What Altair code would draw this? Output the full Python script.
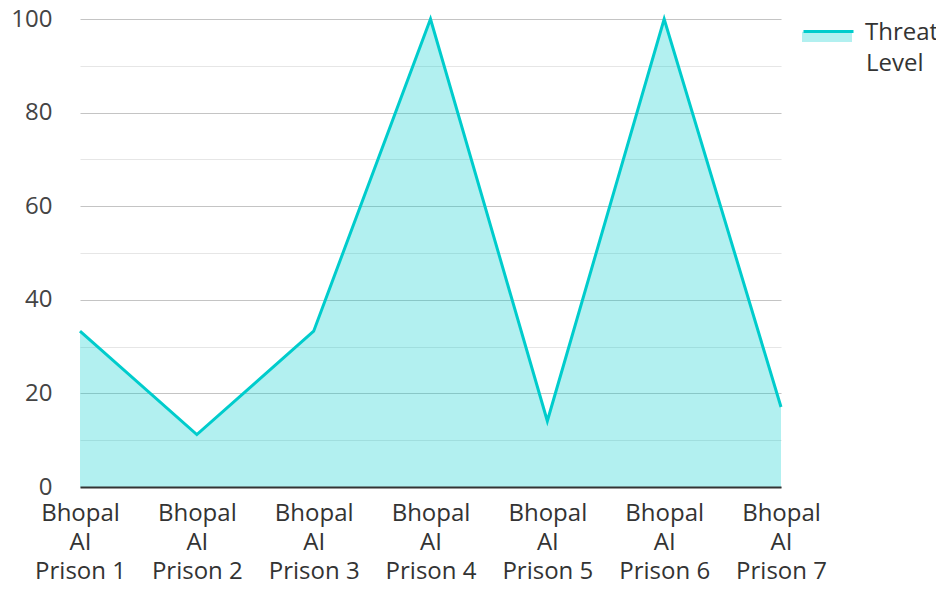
import altair as alt
import pandas as pd

categories = ["Bhopal AI Prison 1", "Bhopal AI Prison 2", "Bhopal AI Prison 3",
              "Bhopal AI Prison 4", "Bhopal AI Prison 5", "Bhopal AI Prison 6",
              "Bhopal AI Prison 7"]
threat = [33.3, 11.2, 33.3, 100, 14.1, 100, 17.1]
series_name = "Threat Level"

df = pd.DataFrame({"prison": categories, "value": threat, "series": series_name,
                   "series2": series_name})

FONT = "Open Sans"
LINE = "#00cccc"
FS = 24

x = alt.X("prison:N", sort=categories, title=None,
          scale=alt.Scale(type="point", padding=0),
          axis=alt.Axis(labelAngle=0, labelFontSize=FS, labelColor="#333",
                        labelFont=FONT, labelLineHeight=29, ticks=False,
                        domainColor="#333", domainWidth=2, labelPadding=14,
                        labelBaseline="top", grid=False, zindex=1,
                        labelExpr="[substring(datum.label,0,6), substring(datum.label,7,9), substring(datum.label,10)]"))
y = alt.Y("value:Q", title=None,
          scale=alt.Scale(domain=[0, 100], nice=False),
          axis=alt.Axis(values=list(range(0, 101, 10)), labelFontSize=FS,
                        labelColor="#444", labelFont=FONT, ticks=False, domain=False,
                        labelPadding=28,
                        labelExpr="datum.value % 20 == 0 ? datum.label : ''",
                        gridColor={"condition": {"test": "datum.value % 20 == 0", "value": "#c4c4c4"},
                                   "value": "#e6e6e6"},
                        gridWidth=1.2))

area = alt.Chart(df).mark_area(opacity=0.3, interpolate="linear").encode(
    x=x, y=y,
    fill=alt.Fill("series2:N", scale=alt.Scale(range=[LINE]),
                  legend=alt.Legend(orient="none", legendX=722, legendY=20, title=None,
                                    padding=0, symbolType="M-1,-1.29L1,-1.29L1,-0.88L-1,-0.88Z",
                                    symbolSize=2500, symbolOpacity=0.3, symbolStrokeWidth=0,
                                    labelExpr="split(datum.label, ' ')[1]",
                                    labelFontSize=FS, labelFont=FONT, labelColor="#333",
                                    labelLimit=200, labelOffset=14))
)
line = alt.Chart(df).mark_line(strokeWidth=3, interpolate="linear").encode(
    x=x, y=y,
    stroke=alt.Stroke("series:N", scale=alt.Scale(range=[LINE]),
                      legend=alt.Legend(orient="none", legendX=722, legendY=-13, title=None,
                                        padding=0, symbolType="M-1,-0.04L1,-0.04",
                                        symbolSize=2500, symbolStrokeWidth=3,
                                        symbolFillColor="transparent",
                                        labelExpr="split(datum.label, ' ')[0]",
                                        labelFontSize=FS, labelFont=FONT, labelColor="#333",
                                        labelLimit=200, labelOffset=10))
)

chart = alt.layer(area, line).properties(
    width=701, height=468,
    padding={"left": 72, "top": 11, "right": 155, "bottom": 92},
    autosize=alt.AutoSizeParams(type="none"),
).configure(font=FONT).configure_view(stroke=None).configure_axisX(grid=False)

chart.save("out.html", embed_options={"renderer": "svg", "actions": False})
